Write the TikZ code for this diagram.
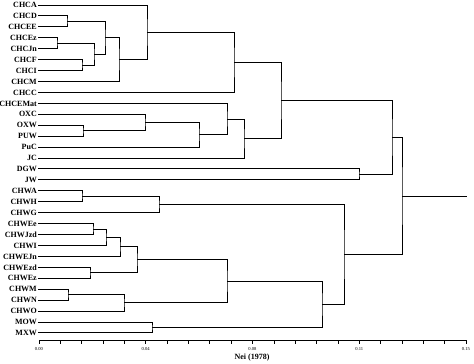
\documentclass[tikz,border=0pt]{standalone}
\usepackage{fontspec}
\setmainfont{Liberation Serif}
\usetikzlibrary{positioning,calc}

\begin{document}
\begin{tikzpicture}[x=1pt,y=-1pt,
    leaf/.style={anchor=east,inner sep=1pt,font=\fontsize{8}{9}\selectfont\bfseries},
    branch/.style={line width=1pt},
    ticklab/.style={inner sep=0pt,font=\fontsize{4.6}{5}\selectfont},
    axtick/.style={line width=0.7pt}]
    \useasboundingbox (0,0) rectangle (474,364);

    % population labels
    \foreach \lab [count=\i] in {CHCA,CHCD,CHCEE,CHCEz,CHCJn,CHCF,CHCI,CHCM,CHCC,CHCEMat,
        OXC,OXW,PUW,PuC,JC,DGW,JW,CHWA,CHWH,CHWG,CHWEe,CHWJzd,CHWI,CHWEJn,CHWEzd,CHWEz,
        CHWM,CHWN,CHWO,MOW,MXW}
      \node[leaf] (l\i) at (38,{5+(\i-1)*10.933}) {\lab};

    % first cluster
    \coordinate (m23) at (67,21.4);
    \coordinate (m45) at (57,43.27);
    \coordinate (m67) at (82,65.13);
    \coordinate (m4567) at (94,54.2);
    \coordinate (m2to7) at (105,37.8);
    \coordinate (m2to8) at (119,59.67);
    \coordinate (m1to8) at (147,32.33);
    \coordinate (m1to9) at (234,62.4);
    \draw[branch] (l2.east) -| (m23) |- (l3.east);
    \draw[branch] (l4.east) -| (m45) |- (l5.east);
    \draw[branch] (l6.east) -| (m67) |- (l7.east);
    \draw[branch] (m45) -| (m4567) |- (m67);
    \draw[branch] (m23) -| (m2to7) |- (m4567);
    \draw[branch] (m2to7) -| (m2to8) |- (l8.east);
    \draw[branch] (l1.east) -| (m1to8) |- (m2to8);
    \draw[branch] (m1to8) -| (m1to9) |- (l9.east);

    % second cluster
    \coordinate (m1213) at (83,130.73);
    \coordinate (m11to13) at (145,122.53);
    \coordinate (m11to14) at (199,134.83);
    \coordinate (m10to14) at (227,119.12);
    \coordinate (m10to15) at (244,138.6);
    \coordinate (m1to15) at (281,100.5);
    \coordinate (m1617) at (359,174.47);
    \coordinate (m1to17) at (392,137.48);
    \draw[branch] (l12.east) -| (m1213) |- (l13.east);
    \draw[branch] (l11.east) -| (m11to13) |- (m1213);
    \draw[branch] (m11to13) -| (m11to14) |- (l14.east);
    \draw[branch] (l10.east) -| (m10to14) |- (m11to14);
    \draw[branch] (m10to14) -| (m10to15) |- (l15.east);
    \draw[branch] (m1to9) -| (m1to15) |- (m10to15);
    \draw[branch] (l16.east) -| (m1617) |- (l17.east);
    \draw[branch] (m1to15) -| (m1to17) |- (m1617);

    % third cluster
    \coordinate (m1819) at (82,196.33);
    \coordinate (m18to20) at (159,204.53);
    \coordinate (m2122) at (93,229.13);
    \coordinate (m21to23) at (106,237.33);
    \coordinate (m21to24) at (120,246.9);
    \coordinate (m2526) at (90,272.87);
    \coordinate (m21to26) at (137,259.88);
    \coordinate (m2728) at (68,294.73);
    \coordinate (m27to29) at (124,302.93);
    \coordinate (m21to29) at (227,281.4);
    \coordinate (m3031) at (152,327.53);
    \coordinate (m21to31) at (322,304.47);
    \coordinate (m18to31) at (344,254.5);
    \draw[branch] (l18.east) -| (m1819) |- (l19.east);
    \draw[branch] (m1819) -| (m18to20) |- (l20.east);
    \draw[branch] (l21.east) -| (m2122) |- (l22.east);
    \draw[branch] (m2122) -| (m21to23) |- (l23.east);
    \draw[branch] (m21to23) -| (m21to24) |- (l24.east);
    \draw[branch] (l25.east) -| (m2526) |- (l26.east);
    \draw[branch] (m21to24) -| (m21to26) |- (m2526);
    \draw[branch] (l27.east) -| (m2728) |- (l28.east);
    \draw[branch] (m2728) -| (m27to29) |- (l29.east);
    \draw[branch] (m21to26) -| (m21to29) |- (m27to29);
    \draw[branch] (l30.east) -| (m3031) |- (l31.east);
    \draw[branch] (m21to29) -| (m21to31) |- (m3031);
    \draw[branch] (m18to20) -| (m18to31) |- (m21to31);

    % root
    \coordinate (root) at (402,196);
    \coordinate (rootend) at (467,196);
    \draw[branch] (m1to17) -| (root) |- (m18to31);
    \draw[branch] (root) -- (rootend);

    % scale
    \coordinate (ax0) at (39,340);
    \coordinate (ax1) at (466,340);
    \draw[axtick] (ax0) -- (ax1);
    \foreach \t in {0,...,20}
      \draw[axtick] ({39+\t*21.35},340) -- ++(0,3.5);
    \foreach \v [count=\k from 0] in {0.00,0.04,0.08,0.11,0.15}
      \node[ticklab] (t\k) at ({39+\k*106.75},348.5) {\v};
    \node[font=\fontsize{8}{9}\selectfont\bfseries] (axname) at (252,357.5) {Nei (1978)};
\end{tikzpicture}
\end{document}
